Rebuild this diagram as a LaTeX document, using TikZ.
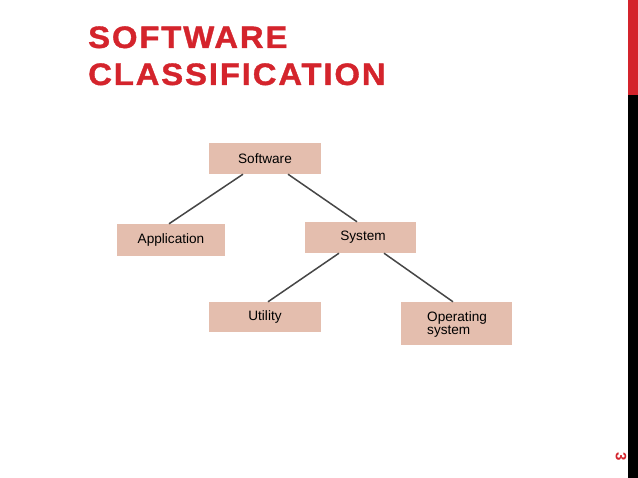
\documentclass[tikz,border=0pt]{standalone}
\usepackage{fontspec}
\setmainfont{Liberation Sans}
\newfontfamily\titlefont[LetterSpace=6,FakeStretch=1.06,FakeBold=1.2]{Liberation Sans Bold}
\definecolor{titlered}{RGB}{212,36,44}
\definecolor{boxfill}{RGB}{228,190,174}
\definecolor{linegray}{RGB}{70,70,70}
\begin{document}
\begin{tikzpicture}[x=1pt,y=-1pt,
  catbox/.style={fill=boxfill, draw=none, minimum width=112pt, minimum height=31pt, inner sep=0pt, font=\fontsize{13.6}{14}\selectfont},
  titletext/.style={anchor=base west, inner sep=0pt, text=titlered, font=\titlefont\fontsize{31}{34}\selectfont},
  conn/.style={draw=linegray, line width=1.5pt}]
\useasboundingbox (0,0) rectangle (638,478);
\fill[white] (0,0) rectangle (638,478);
% right bar
\fill[titlered] (628,0) rectangle (638,95);
\fill[black] (628,95) rectangle (638,478);
\node[text=titlered, rotate=-90, font=\bfseries\fontsize{15}{15}\selectfont, inner sep=0pt] (pnum) at (621,456.5) {3};
% title
\node[titletext] (t1) at (88,48) {SOFTWARE};
\node[titletext] (t2) at (88,85) {CLASSIFICATION};
% boxes
\node[catbox, minimum width=112pt] (sw) at (265,158.5) {Software};
\node[catbox, minimum width=108pt, minimum height=32pt] (app) at (171,240) {Application};
\node[catbox, minimum width=111pt] (sys) at (360.5,237.5) {\hspace*{5pt}System};
\node[catbox, minimum width=112pt, minimum height=30pt] (util) at (265,317) {Utility};
\node[catbox, minimum width=111pt, minimum height=43pt] (os) at (456.5,323.5) {};
\node[anchor=north west, inner sep=0pt, align=left, font=\fontsize{13.6}{12.5}\selectfont] (ostext) at (427,311.5) {Operating\\system};
% connectors
\coordinate (a1) at ([xshift=-22pt]sw.south);
\coordinate (a2) at ([xshift=23pt]sw.south);
\coordinate (b1) at ([xshift=-21.5pt]sys.south);
\coordinate (b2) at ([xshift=23.5pt]sys.south);
\draw[conn] (a1) -- (app.north -| 169,0);
\draw[conn] (a2) -- (sys.north -| 357,0);
\draw[conn] (b1) -- (util.north -| 268,0);
\draw[conn] (b2) -- (os.north -| 453,0);
\end{tikzpicture}
\end{document}
